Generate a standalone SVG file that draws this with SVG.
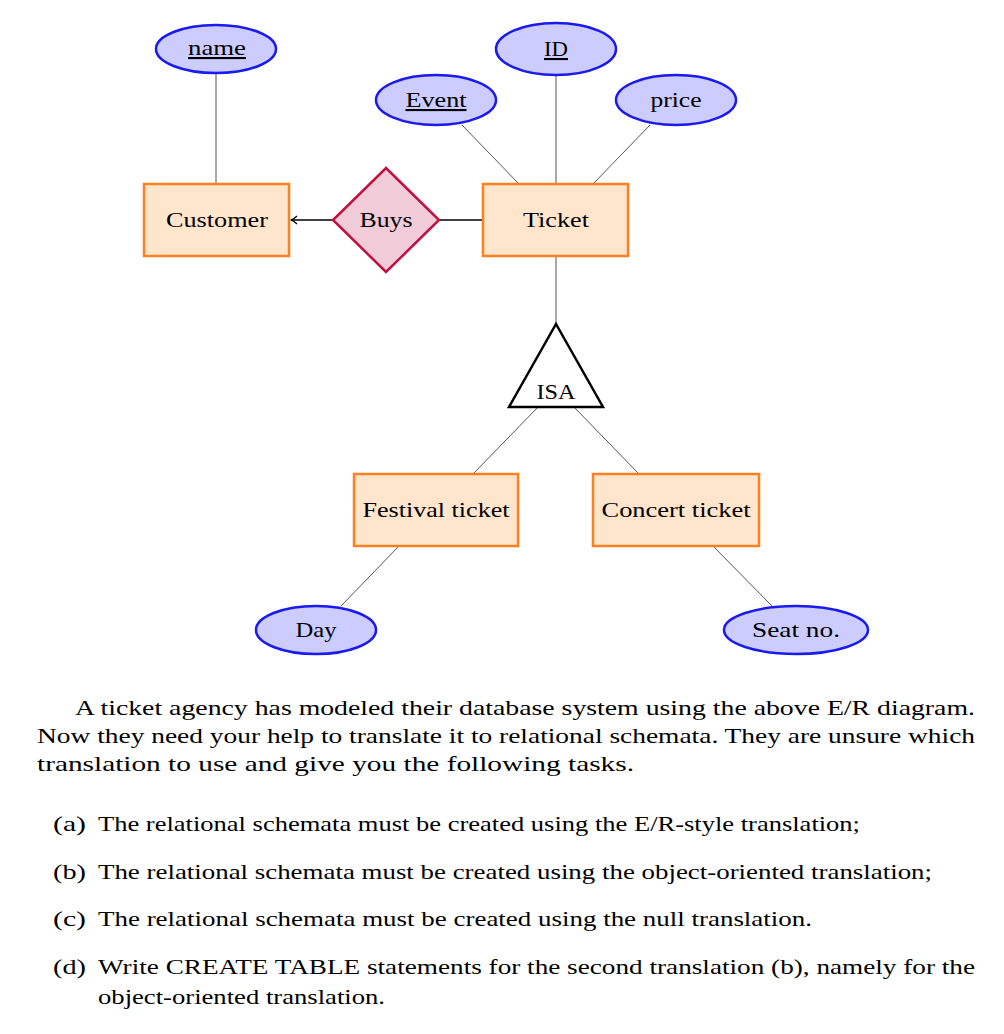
<svg xmlns="http://www.w3.org/2000/svg" width="1004" height="1034" viewBox="0 0 1004 1034">
<style>
text{font-family:"Liberation Serif","DejaVu Serif",serif;font-size:21px;fill:#000}
.c{text-anchor:middle}
.attr{fill:#ccccff;stroke:#1a1aee;stroke-width:2.5}
.ent{fill:#ffe5cc;stroke:#ff8020;stroke-width:2.5}
.rel{fill:#f2cbd8;stroke:#c0103f;stroke-width:2.5}
.ln{stroke:#555;stroke-width:1;fill:none}
</style>
<defs><marker id="ar" markerWidth="10" markerHeight="10" refX="9" refY="5" orient="auto" markerUnits="userSpaceOnUse"><path d="M3,1 Q6,4 9,5 Q6,6 3,9" fill="none" stroke="#000" stroke-width="1.3"/></marker></defs>
<g id="connectors">
<line class="ln" x1="216" y1="73" x2="216" y2="184"/>
<line class="ln" x1="462" y1="125" x2="519" y2="184"/>
<line class="ln" x1="556" y1="75" x2="556" y2="184"/>
<line class="ln" x1="650" y1="125" x2="593" y2="184"/>
<line x1="333" y1="220" x2="291" y2="220" stroke="#000" stroke-width="1.3" marker-end="url(#ar)"/>
<line x1="439" y1="220" x2="483" y2="220" stroke="#000" stroke-width="1.3"/>
<line class="ln" x1="556" y1="256" x2="556" y2="324"/>
<line class="ln" x1="538" y1="407" x2="474" y2="473"/>
<line class="ln" x1="574" y1="407" x2="638" y2="473"/>
<line class="ln" x1="399" y1="546" x2="341" y2="606"/>
<line class="ln" x1="713" y1="546" x2="772" y2="606"/>
</g>
<g id="name"><ellipse class="attr" cx="216" cy="49" rx="60" ry="24"/><text class="c" x="217" y="55" text-decoration="underline" textLength="58" lengthAdjust="spacingAndGlyphs">name</text></g>
<g id="event"><ellipse class="attr" cx="436" cy="100" rx="60" ry="25"/><text class="c" x="436" y="107" text-decoration="underline" textLength="61" lengthAdjust="spacingAndGlyphs">Event</text></g>
<g id="id"><ellipse class="attr" cx="556" cy="49" rx="60" ry="26"/><text class="c" x="556" y="56" text-decoration="underline" textLength="24" lengthAdjust="spacingAndGlyphs">ID</text></g>
<g id="price"><ellipse class="attr" cx="676" cy="100" rx="60" ry="25"/><text class="c" x="676" y="107" textLength="51" lengthAdjust="spacingAndGlyphs">price</text></g>
<g id="customer"><rect class="ent" x="144" y="184" width="145" height="72"/><text class="c" x="217" y="227" textLength="102" lengthAdjust="spacingAndGlyphs">Customer</text></g>
<g id="buys"><polygon class="rel" points="386,168 439,220 386,272 333,220"/><text class="c" x="386" y="227" textLength="53" lengthAdjust="spacingAndGlyphs">Buys</text></g>
<g id="ticket"><rect class="ent" x="483" y="184" width="145" height="72"/><text class="c" x="556" y="227" textLength="66" lengthAdjust="spacingAndGlyphs">Ticket</text></g>
<g id="isa"><polygon points="556,324 603,407 509,407" fill="#fff" stroke="#000" stroke-width="2.5"/><text class="c" x="556" y="399" textLength="39" lengthAdjust="spacingAndGlyphs">ISA</text></g>
<g id="festival"><rect class="ent" x="354" y="474" width="164" height="72"/><text class="c" x="436" y="517" textLength="147" lengthAdjust="spacingAndGlyphs">Festival ticket</text></g>
<g id="concert"><rect class="ent" x="593" y="474" width="166" height="72"/><text class="c" x="676" y="517" textLength="149" lengthAdjust="spacingAndGlyphs">Concert ticket</text></g>
<g id="day"><ellipse class="attr" cx="316" cy="630" rx="60" ry="24"/><text class="c" x="316" y="637" textLength="41" lengthAdjust="spacingAndGlyphs">Day</text></g>
<g id="seat"><ellipse class="attr" cx="796" cy="630" rx="72" ry="24"/><text class="c" x="796" y="637" textLength="88" lengthAdjust="spacingAndGlyphs">Seat no.</text></g>
<g id="text">
<text x="75" y="715" textLength="900" lengthAdjust="spacingAndGlyphs">A ticket agency has modeled their database system using the above E/R diagram.</text>
<text x="37" y="743" textLength="938" lengthAdjust="spacingAndGlyphs">Now they need your help to translate it to relational schemata. They are unsure which</text>
<text x="37" y="771" textLength="597" lengthAdjust="spacingAndGlyphs">translation to use and give you the following tasks.</text>
<text x="53" y="831" textLength="33" lengthAdjust="spacingAndGlyphs">(a)</text><text x="98" y="831" textLength="762" lengthAdjust="spacingAndGlyphs">The relational schemata must be created using the E/R-style translation;</text>
<text x="53" y="879" textLength="33" lengthAdjust="spacingAndGlyphs">(b)</text><text x="98" y="879" textLength="834" lengthAdjust="spacingAndGlyphs">The relational schemata must be created using the object-oriented translation;</text>
<text x="53" y="926" textLength="33" lengthAdjust="spacingAndGlyphs">(c)</text><text x="98" y="926" textLength="714" lengthAdjust="spacingAndGlyphs">The relational schemata must be created using the null translation.</text>
<text x="53" y="974" textLength="33" lengthAdjust="spacingAndGlyphs">(d)</text><text x="98" y="974" textLength="877" lengthAdjust="spacingAndGlyphs">Write CREATE TABLE statements for the second translation (b), namely for the</text>
<text x="98" y="1004" textLength="287" lengthAdjust="spacingAndGlyphs">object-oriented translation.</text>
</g>
</svg>
